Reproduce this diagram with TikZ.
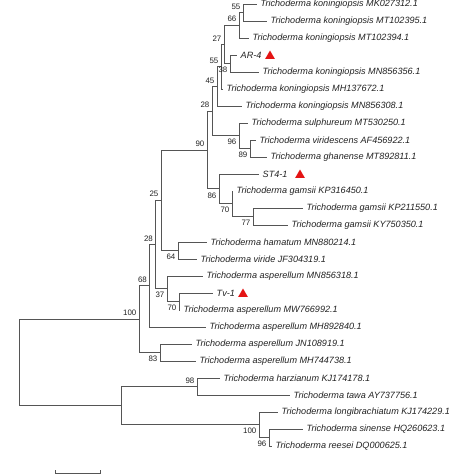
\documentclass[tikz,border=0pt]{standalone}
\usepackage{fontspec}
\setmainfont{Liberation Sans}
\usepackage{xcolor}
\definecolor{treegray}{RGB}{85,85,85}
\definecolor{labelgray}{RGB}{35,35,35}
\definecolor{hitred}{RGB}{228,20,20}
\usetikzlibrary{shapes.geometric}

\begin{document}
\begin{tikzpicture}[x=1pt,y=-1pt,
    branch/.style={draw=treegray,line width=0.9pt},
    leaf/.style={anchor=west,inner sep=0pt,xshift=3.5pt,text=labelgray,font=\fontsize{9.1}{10}\selectfont\itshape},
    bs/.style={inner sep=0pt,text=labelgray,font=\fontsize{7.9}{8}\selectfont},
    bsup/.style={bs,anchor=south east,xshift=-2.5pt,yshift=3pt},
    bsdown/.style={bs,anchor=north east,xshift=-2.5pt,yshift=-3.5pt},
    hit/.style={regular polygon,regular polygon sides=3,fill=hitred,inner sep=0pt,minimum size=11pt}]
  \useasboundingbox[fill=white] (0,0) rectangle (474,474);

  \foreach \i/\ex/\txt in {0/257/{Trichoderma koningiopsis MK027312.1},
      1/267/{Trichoderma koningiopsis MT102395.1},
      2/249/{Trichoderma koningiopsis MT102394.1},
      3/237/{AR-4},
      4/259/{Trichoderma koningiopsis MN856356.1},
      5/223/{Trichoderma koningiopsis MH137672.1},
      6/242/{Trichoderma koningiopsis MN856308.1},
      7/248/{Trichoderma sulphureum MT530250.1},
      8/256/{Trichoderma viridescens AF456922.1},
      9/267/{Trichoderma ghanense MT892811.1},
      10/259/{ST4-1},
      11/233/{Trichoderma gamsii KP316450.1},
      12/303/{Trichoderma gamsii KP211550.1},
      13/288/{Trichoderma gamsii KY750350.1},
      14/207/{Trichoderma hamatum MN880214.1},
      15/197/{Trichoderma viride JF304319.1},
      16/203/{Trichoderma asperellum MN856318.1},
      17/213/{Tv-1},
      18/180/{Trichoderma asperellum MW766992.1},
      19/206/{Trichoderma asperellum MH892840.1},
      20/192/{Trichoderma asperellum JN108919.1},
      21/196/{Trichoderma asperellum MH744738.1},
      22/220/{Trichoderma harzianum KJ174178.1},
      23/290/{Trichoderma tawa AY737756.1},
      24/278/{Trichoderma longibrachiatum KJ174229.1},
      25/303/{Trichoderma sinense HQ260623.1},
      26/272/{Trichoderma reesei DQ000625.1}}
  {
    \coordinate (l\i) at (\ex,{4+17*\i});
    \node[leaf] (t\i) at (l\i) {\txt};
  }

  \coordinate (n55a) at (243,12.5);
  \coordinate (n66) at (239,25.25);
  \coordinate (n38) at (230,63.5);
  \coordinate (n27) at (224,44.4);
  \coordinate (n55b) at (221,66.7);
  \coordinate (n45) at (217,86.3);
  \coordinate (n89) at (250,148.5);
  \coordinate (n96a) at (239,135.75);
  \coordinate (n28a) at (212,111.05);
  \coordinate (n77) at (253,216.5);
  \coordinate (n70a) at (232,203.75);
  \coordinate (n86) at (219,188.9);
  \coordinate (n90) at (207,149.95);
  \coordinate (n64) at (178,250.5);
  \coordinate (n25) at (161,200.2);
  \coordinate (n70b) at (179,301.5);
  \coordinate (n37) at (167,288.75);
  \coordinate (n28b) at (155.5,244.5);
  \coordinate (n68) at (149.5,285.75);
  \coordinate (n83) at (160,352.5);
  \coordinate (n100a) at (139,319.1);
  \coordinate (n98) at (197,386.5);
  \coordinate (n96b) at (269,437.5);
  \coordinate (n100b) at (259,424.75);
  \coordinate (nb) at (121,405.6);
  \coordinate (root) at (19,362.4);

  \foreach \p/\c in {n55a/l0,n55a/l1,n66/n55a,n66/l2,n38/l3,n38/l4,n27/n66,n27/n38,
      n55b/n27,n55b/l5,n45/n55b,n45/l6,n89/l8,n89/l9,n96a/l7,n96a/n89,n28a/n45,n28a/n96a,
      n77/l12,n77/l13,n70a/l11,n70a/n77,n86/l10,n86/n70a,n90/n28a,n90/n86,n64/l14,n64/l15,
      n25/n90,n25/n64,n70b/l17,n70b/l18,n37/l16,n37/n70b,n28b/n25,n28b/n37,n68/n28b,n68/l19,
      n83/l20,n83/l21,n100a/n68,n100a/n83,n98/l22,n98/l23,n96b/l25,n96b/l26,n100b/l24,
      n100b/n96b,nb/n98,nb/n100b,root/n100a,root/nb}
    \draw[branch] (\p) |- (\c);

  \foreach \n/\v in {n55a/55,n66/66,n27/27,n55b/55,n45/45,n28a/28,n90/90,n25/25,
      n28b/28,n68/68,n100a/100,n98/98}
    \node[bsup] (b\n) at (\n) {\v};
  \foreach \n/\v in {n38/38,n96a/96,n89/89,n86/86,n70a/70,n77/77,n64/64,n37/37,
      n70b/70,n83/83,n100b/100,n96b/96}
    \node[bsdown] (b\n) at (\n) {\v};

  \node[hit] (h3) at (270,56) {};
  \node[hit] (h10) at (300,175) {};
  \node[hit] (h17) at (243,294) {};

  \coordinate (s0) at (55,473);
  \coordinate (s1) at (100,473);
  \draw[branch] ([yshift=3pt]s0) -- (s0) -- (s1) -- ([yshift=3pt]s1);
\end{tikzpicture}
\end{document}
